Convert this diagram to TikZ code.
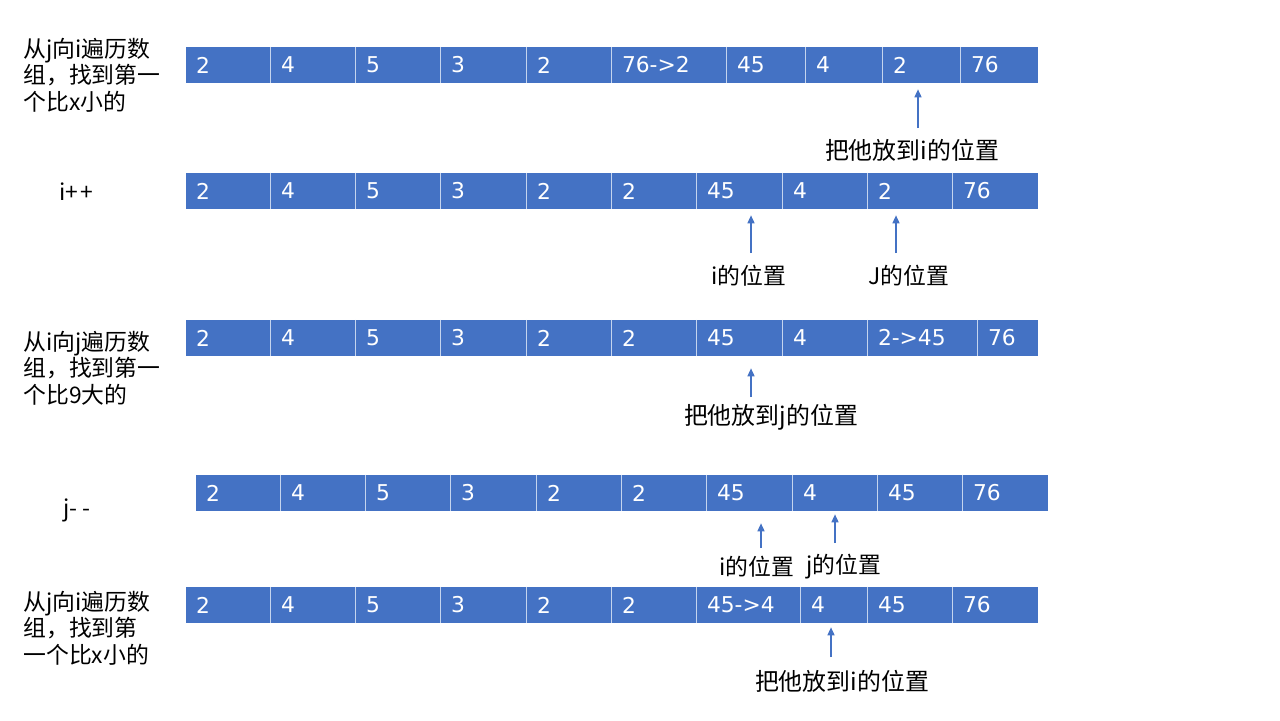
\documentclass[tikz,border=0pt]{standalone}
\usepackage{fontspec}
\setmainfont{Noto Sans CJK SC}
\newfontfamily\cellfont{DejaVu Sans}
\usepackage{tikz}
\usetikzlibrary{arrows.meta}

\definecolor{cellblue}{HTML}{4472C4}
\definecolor{cellline}{HTML}{C5D4EE}

\begin{document}
\begin{tikzpicture}[
    x=0.02cm, y=-0.02cm,
    cell/.style={rectangle, fill=cellblue, text=white, align=left, inner xsep=0.2cm, inner ysep=0pt, minimum height=0.72cm, font=\cellfont\fontsize{12.4pt}{13pt}\selectfont},
    sep/.style={draw=cellline, line width=0.6pt},
    note/.style={align=left, inner sep=0pt, font=\fontsize{13pt}{15pt}\selectfont},
    tag/.style={inner sep=0pt, font=\fontsize{13pt}{15pt}\selectfont},
    bigtag/.style={inner sep=0pt, font=\fontsize{13.6pt}{16pt}\selectfont},
    ptr/.style={-{Triangle[width=4pt,length=4.5pt]}, draw=cellblue, line width=0.7pt, shorten >=0.12cm}
]
\useasboundingbox (0,0) rectangle (1280,720);

% row 1: from j to i
\foreach \k/\a/\b/\t in {1/186/271/2, 2/271/356/4, 3/356/441/5, 4/441/527/3, 5/527/612/2, 6/612/727/76->2, 7/727/806/45, 8/806/883/4, 9/883/961/2, 10/961/1038/76} {
    \pgfmathsetmacro\w{(\b-\a)*0.02-0.4}
    \node[cell, text width=\w cm] (r1c\k) at ({(\a+\b)/2},65) {\t};
    \ifnum\k>1 \draw[sep] (r1c\k.north west) -- (r1c\k.south west); \fi
}
\node[note, anchor=west] (step1) at (23,75) {从j向i遍历数\\组，找到第一\\个比x小的};
\coordinate (p1) at (918,128);
\node[bigtag] (put1) at (912,150) {把他放到i的位置};
\draw[ptr] (p1) -- (p1 |- r1c9.south);

% row 2: i++
\foreach \k/\a/\b/\t in {1/186/271/2, 2/271/356/4, 3/356/441/5, 4/441/527/3, 5/527/612/2, 6/612/697/2, 7/697/783/45, 8/783/868/4, 9/868/953/2, 10/953/1038/76} {
    \pgfmathsetmacro\w{(\b-\a)*0.02-0.4}
    \node[cell, text width=\w cm] (r2c\k) at ({(\a+\b)/2},191) {\t};
    \ifnum\k>1 \draw[sep] (r2c\k.north west) -- (r2c\k.south west); \fi
}
\node[note, anchor=west] (step2) at (59,192) {i+\kern1.5pt+};
\coordinate (p2) at (751,253);
\coordinate (p3) at (896,253);
\node[tag] (ipos2) at (749,276) {i的位置};
\node[tag] (jpos2) at (909,276) {J的位置};
\draw[ptr] (p2) -- (p2 |- r2c7.south);
\draw[ptr] (p3) -- (p3 |- r2c9.south);

% row 3: from i to j
\foreach \k/\a/\b/\t in {1/186/271/2, 2/271/356/4, 3/356/441/5, 4/441/527/3, 5/527/612/2, 6/612/697/2, 7/697/783/45, 8/783/868/4, 9/868/978/2->45, 10/978/1038/76} {
    \pgfmathsetmacro\w{(\b-\a)*0.02-0.4}
    \node[cell, text width=\w cm] (r3c\k) at ({(\a+\b)/2},338) {\t};
    \ifnum\k>1 \draw[sep] (r3c\k.north west) -- (r3c\k.south west); \fi
}
\node[note, anchor=west] (step3) at (23,368) {从i向j遍历数\\组，找到第一\\个比9大的};
\coordinate (p4) at (751,397);
\node[bigtag] (put3) at (771,417) {把他放到j的位置};
\draw[ptr, shorten >=0.24cm] (p4) -- (p4 |- r3c7.south);

% row 4: j--
\foreach \k/\a/\b/\t in {1/196/281/2, 2/281/366/4, 3/366/451/5, 4/451/537/3, 5/537/622/2, 6/622/707/2, 7/707/793/45, 8/793/878/4, 9/878/963/45, 10/963/1048/76} {
    \pgfmathsetmacro\w{(\b-\a)*0.02-0.4}
    \node[cell, text width=\w cm] (r4c\k) at ({(\a+\b)/2},493) {\t};
    \ifnum\k>1 \draw[sep] (r4c\k.north west) -- (r4c\k.south west); \fi
}
\node[note, anchor=west] (step4) at (63,510) {j-\kern3pt-};
\coordinate (p5) at (761,548);
\coordinate (p6) at (835,543);
\node[tag] (ipos4) at (757,567) {i的位置};
\node[tag] (jpos4) at (844,567) {j的位置};
\draw[ptr, shorten >=0.24cm] (p5) -- (p5 |- r4c7.south);
\draw[ptr, shorten >=0.06cm] (p6) -- (p6 |- r4c8.south);

% row 5: from j to i again
\foreach \k/\a/\b/\t in {1/186/271/2, 2/271/356/4, 3/356/441/5, 4/441/527/3, 5/527/612/2, 6/612/697/2, 7/697/801/45->4, 8/801/868/4, 9/868/953/45, 10/953/1038/76} {
    \pgfmathsetmacro\w{(\b-\a)*0.02-0.4}
    \node[cell, text width=\w cm] (r5c\k) at ({(\a+\b)/2},605) {\t};
    \ifnum\k>1 \draw[sep] (r5c\k.north west) -- (r5c\k.south west); \fi
}
\node[note, anchor=west] (step5) at (23,628) {从j向i遍历数\\组，找到第\\一个比x小的};
\coordinate (p7) at (831,657);
\node[bigtag] (put5) at (842,681) {把他放到i的位置};
\draw[ptr, shorten >=0.08cm] (p7) -- (p7 |- r5c8.south);

\end{tikzpicture}
\end{document}
